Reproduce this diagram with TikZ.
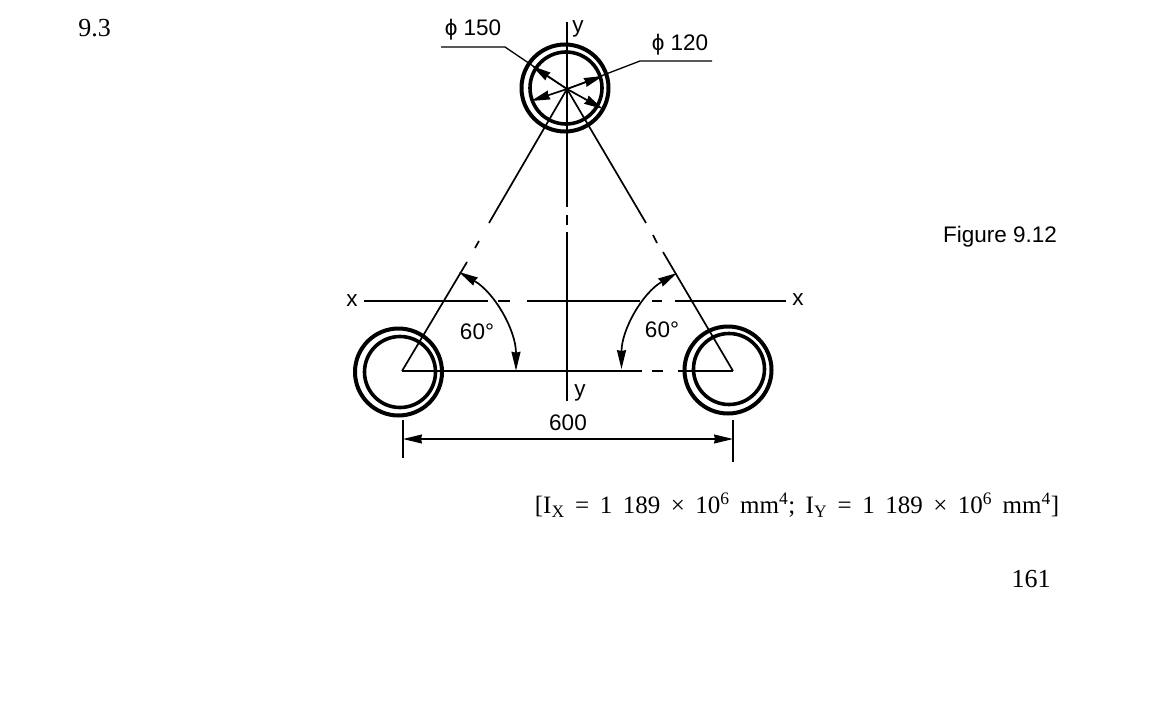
\documentclass[tikz,border=0pt]{standalone}
\usepackage{amsmath}
\usepackage{fontspec}
\setmainfont{Liberation Serif}
\setsansfont{Liberation Sans}
\usetikzlibrary{arrows.meta}
\tikzset{
    x=1pt, y=-1pt, % one unit is one pixel of the page, measured from the top
    >={Stealth[length=19pt, width=9pt, inset=1pt]}, % long blunt heads
    every node/.style={inner sep=0pt},
    outer ring/.style={draw, line width=4pt}, % the big circle of each tube
    inner ring/.style={draw, line width=3.6pt}, % the small circle of each tube
    axis line/.style={draw, line width=1.3pt},
    arm line/.style={draw, line width=1.7pt},
    label/.style={font=\sffamily\fontsize{22.5}{26}\selectfont},
    book/.style={font=\fontsize{26}{30}\selectfont},
}
\newcommand{\widewords}{\spaceskip 0.42em\relax}

\begin{document}
\begin{tikzpicture}
    \useasboundingbox (0,0) rectangle (1167,701);
    % tube centres
    \coordinate (top) at (567,89);
    \coordinate (left) at (402,371);
    \coordinate (right) at (733,371);
    % rings
    \draw[outer ring] (565,88) circle (43.5);
    \draw[inner ring] (566,88) circle (36);
    \draw[outer ring] (398.5,372) circle (43.5);
    \draw[inner ring] (400,372) circle (35.5);
    \draw[outer ring] (728,370) circle (43.5);
    \draw[inner ring] (729,369) circle (35.5);
    % y axis
    \coordinate (y top) at (567,22);
    \coordinate (y bottom) at (567,401);
    \draw[axis line] (y top) -- (567,207) (567,215) -- (567,225) (567,232) -- (y bottom);
    % x axis
    \coordinate (x left) at (364,301);
    \coordinate (x right) at (786,301);
    \draw[axis line] (x left) -- (488,301) (498,301) -- (510,301) (527,301) -- (640,301)
        (652,301) -- (662,301) (675,301) -- (x right);
    % triangle arms with their gaps
    \draw[arm line] (left) -- (467,262) (475,248) -- (479,241) (489,223) -- (top);
    \draw[arm line] (right) -- (663,252) (657,243) -- (653,235) (646,223) -- (top);
    \draw[arm line] (left) -- (642,371) (652,371) -- (663,371) (678,371) -- (right);
    % angle arcs
    \draw[arm line, <->] (459,272) arc[start angle=-60, end angle=0, radius=114];
    \draw[arm line, <->] (677,273) arc[start angle=-120, end angle=-180, radius=111];
    % leaders for the two diameters
    \coordinate (d150 a) at (441,47);
    \coordinate (d150 b) at (505,47);
    \coordinate (d120 a) at (712,61);
    \coordinate (d120 b) at (640,61);
    \draw[axis line] (d150 a) -- (d150 b) -- (top);
    \draw[axis line] (d120 a) -- (d120 b) -- (top);
    \draw[arm line, ->] (top) -- (532,66);
    \draw[arm line, ->] (top) -- (603,109);
    \draw[arm line, ->] (top) -- (603,76);
    \draw[arm line, ->] (top) -- (531,101);
    % dimension 600
    \coordinate (dim a) at (403,420);
    \coordinate (dim b) at (733,420);
    \draw[arm line] (dim a) -- (403,458);
    \draw[arm line] (dim b) -- (733,462);
    \draw[axis line, <->] (403,439) -- (733,439);
    % labels
    \node[label] (phi150) at (473,30) {ϕ 150};
    \node[label] (phi120) at (680,45) {ϕ 120};
    \node[label] (y1) at (578,29) {y};
    \node[label] (y2) at (580,393) {y};
    \node[label] (x1) at (352,301) {x};
    \node[label] (x2) at (798,300) {x};
    \node[label] (angle1) at (477,332) {60°};
    \node[label] (angle2) at (662,330) {60°};
    \node[label] (width) at (568,423) {600};
    \node[label] (caption) at (1000,237) {Figure 9.12};
    \node[book] (problem) at (94.5,28) {9.3};
    \node[book, font=\fontsize{25}{29}\selectfont] (answer) at (797,505) {\widewords{}[I\textsubscript{X} = 1 189 × 10\textsuperscript{6} mm\textsuperscript{4}; I\textsubscript{Y} = 1 189 × 10\textsuperscript{6} mm\textsuperscript{4}]};
    \node[book] (page) at (1031,579) {161};
\end{tikzpicture}
\end{document}
